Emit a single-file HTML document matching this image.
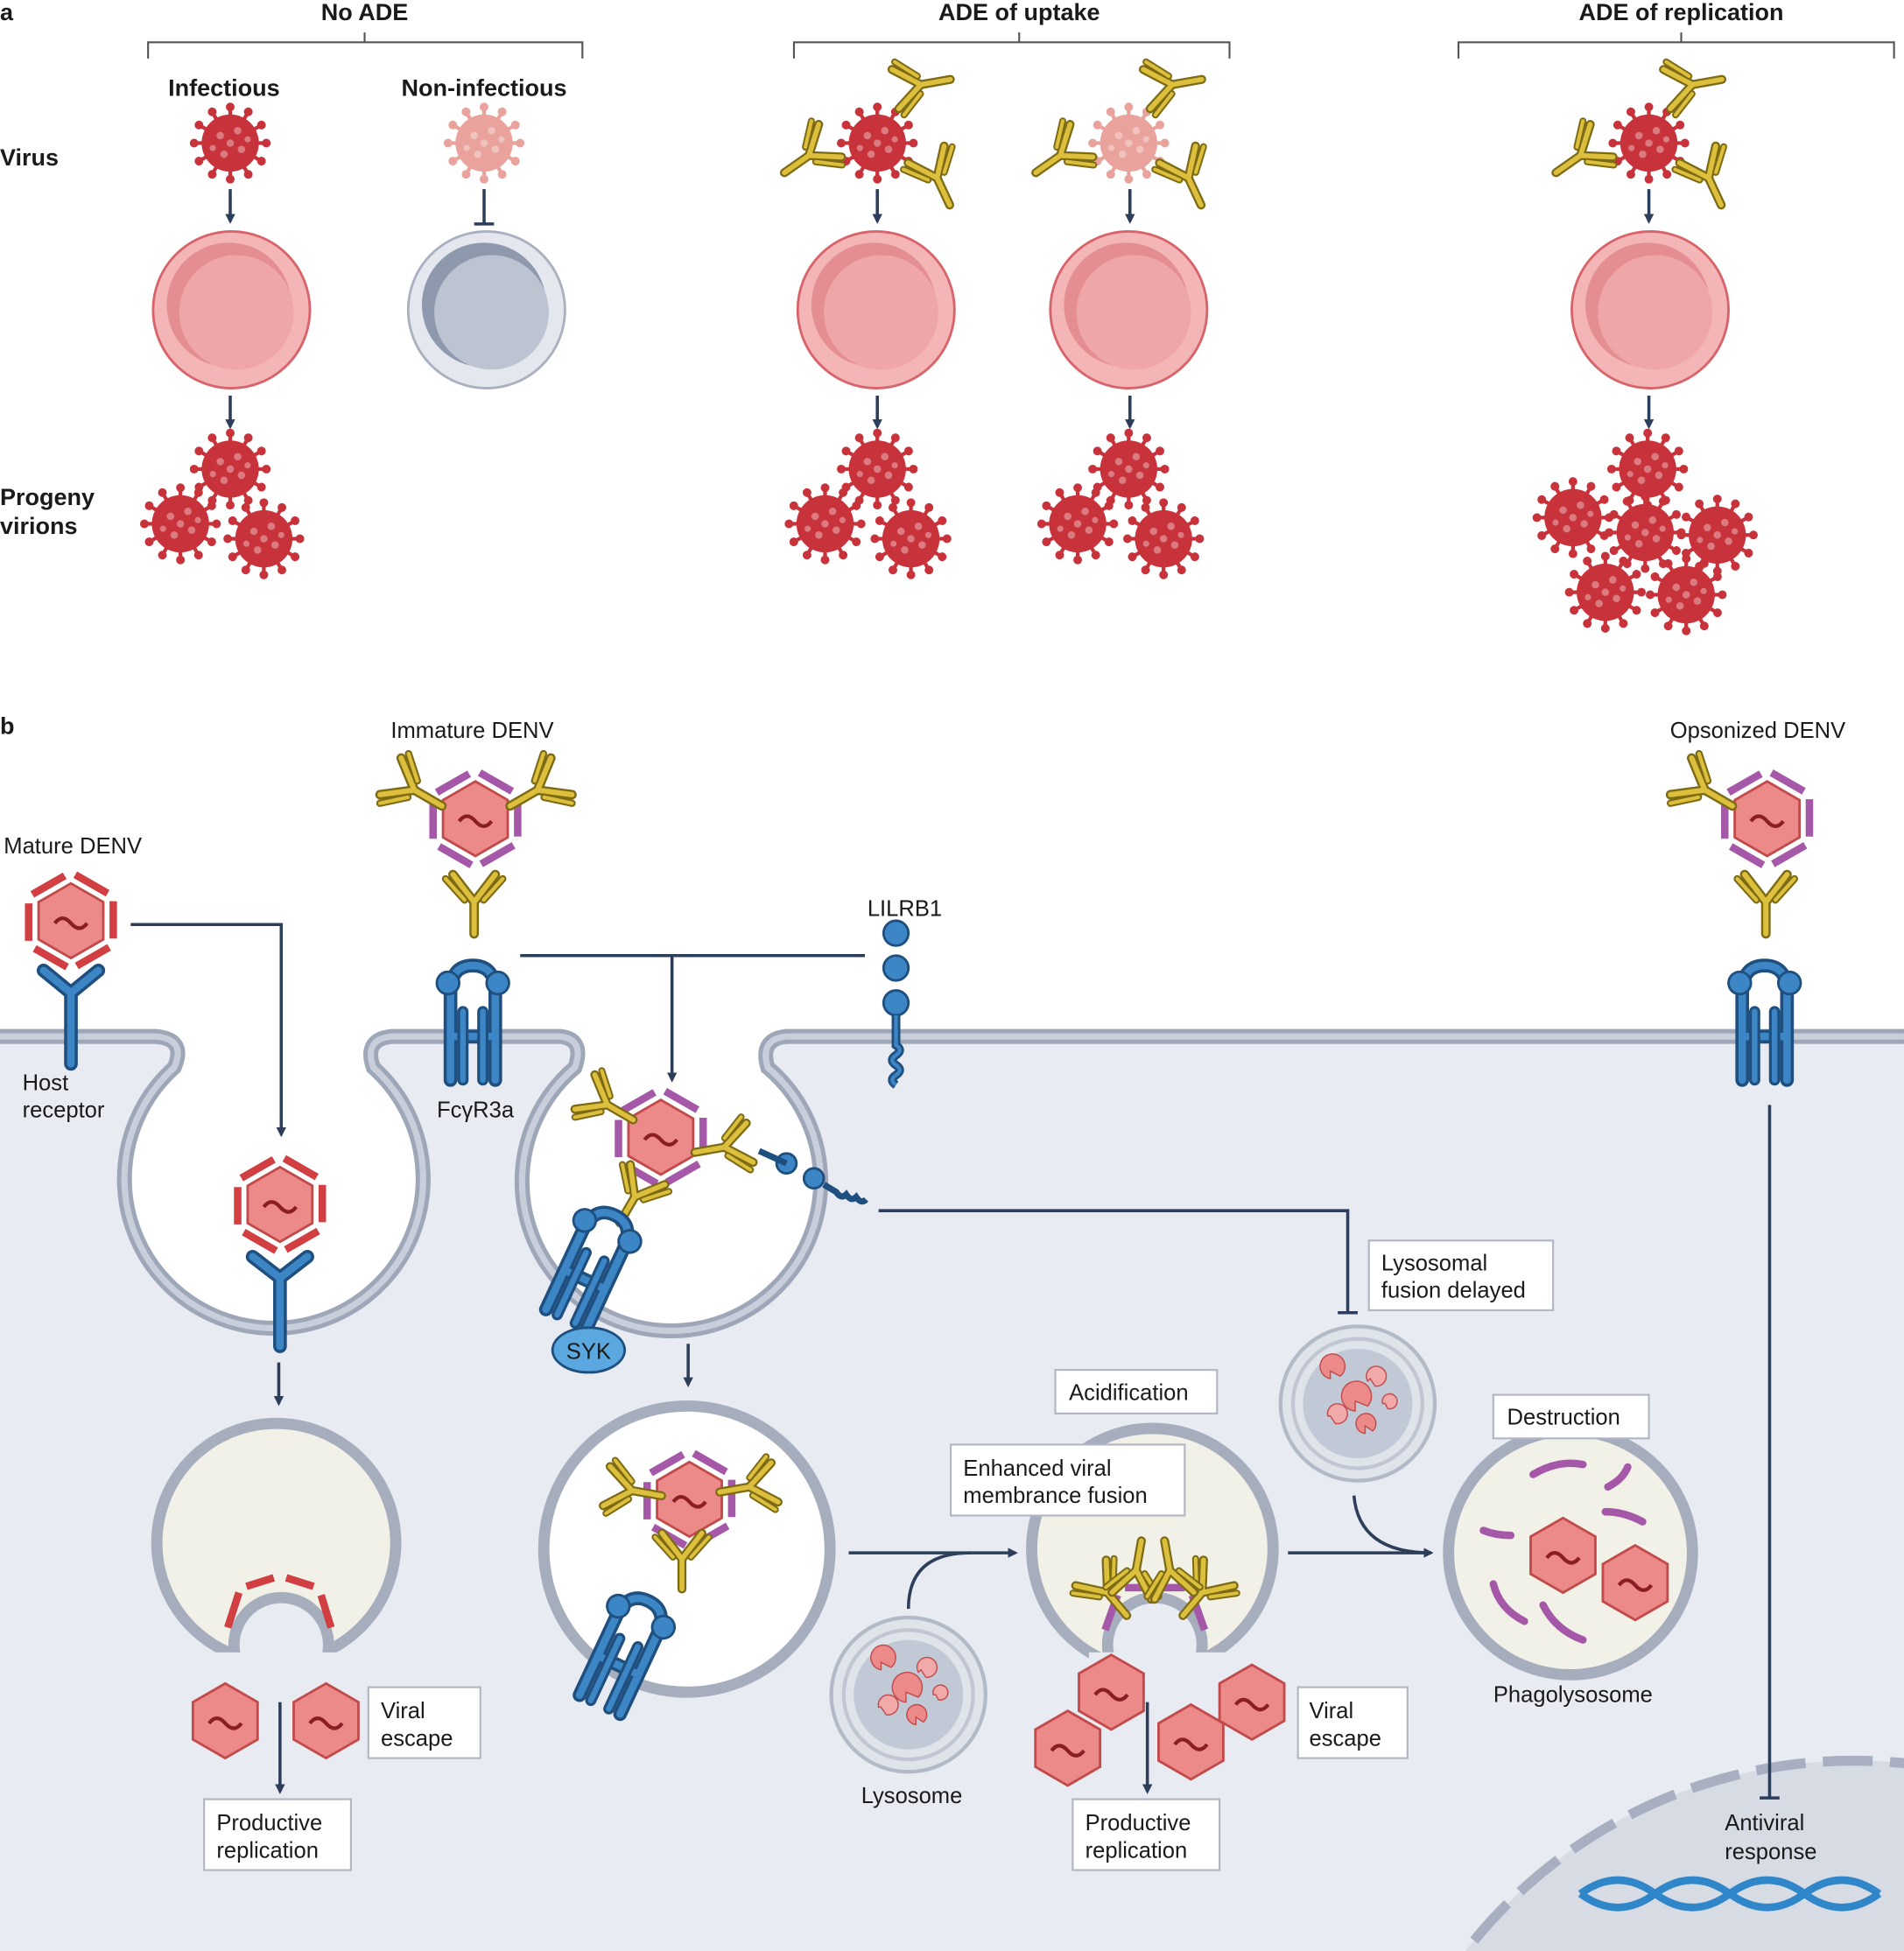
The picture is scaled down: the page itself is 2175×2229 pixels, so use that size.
<!DOCTYPE html>
<html><head><meta charset="utf-8"><style>
html,body{margin:0;padding:0;background:#fff;width:2175px;height:2229px;overflow:hidden}
svg{display:block}
text{font-family:"Liberation Sans",sans-serif;fill:#1a1a1a}
.h{font-weight:bold;font-size:19px}
.l{font-size:18px}
</style></head><body>
<svg width="2175" height="2229" viewBox="0 0 1530 1568" xmlns="http://www.w3.org/2000/svg" xmlns:xlink="http://www.w3.org/1999/xlink">
<defs>
<marker id="ar" markerWidth="8" markerHeight="8" refX="6" refY="4" orient="auto" markerUnits="userSpaceOnUse"><path d="M0,0 L8,4 L0,8 Z" fill="#2d3e5a"/></marker>
<g id="sp"><line x1="0" y1="-20" x2="0" y2="-28" stroke="currentColor" stroke-width="3"/><circle cy="-29" r="3.5" fill="currentColor"/></g>
<g id="vir">
<use href="#sp"/><use href="#sp" transform="rotate(30)"/><use href="#sp" transform="rotate(60)"/><use href="#sp" transform="rotate(90)"/><use href="#sp" transform="rotate(120)"/><use href="#sp" transform="rotate(150)"/><use href="#sp" transform="rotate(180)"/><use href="#sp" transform="rotate(210)"/><use href="#sp" transform="rotate(240)"/><use href="#sp" transform="rotate(270)"/><use href="#sp" transform="rotate(300)"/><use href="#sp" transform="rotate(330)"/>
<circle r="23" fill="currentColor"/>
<circle cx="-8" cy="-6" r="3" fill="#fff" opacity=".35"/><circle cx="6" cy="-10" r="3" fill="#fff" opacity=".35"/><circle cx="9" cy="5" r="3" fill="#fff" opacity=".35"/><circle cx="-5" cy="9" r="3" fill="#fff" opacity=".35"/><circle cx="0" cy="0" r="3" fill="#fff" opacity=".35"/><circle cx="-14" cy="4" r="2.5" fill="#fff" opacity=".35"/><circle cx="14" cy="-3" r="2.5" fill="#fff" opacity=".35"/>
</g>
<g id="ab">
<path d="M0,30 V0 L-20,-26 M0,0 L20,-26" fill="none" stroke="#7d6a14" stroke-width="9" stroke-linecap="round"/>
<path d="M0,30 V0 L-20,-26 M0,0 L20,-26" fill="none" stroke="#dcbf3c" stroke-width="5" stroke-linecap="round"/>
<path d="M-9,-2 L-27,-22 M9,-2 L27,-22" fill="none" stroke="#7d6a14" stroke-width="7" stroke-linecap="round"/>
<path d="M-9,-2 L-27,-22 M9,-2 L27,-22" fill="none" stroke="#dcbf3c" stroke-width="3.5" stroke-linecap="round"/>
</g>
<g id="cell"><circle r="63" fill="#f3b5b5" stroke="#d9636a" stroke-width="2"/><circle cx="-2" cy="-4" r="50" fill="#e48e93"/><circle cx="4" cy="2" r="46" fill="#eea6a9"/></g>
<g id="hexc"><polygon points="0,-30 26,-15 26,15 0,30 -26,15 -26,-15" fill="#ec8a8a" stroke="#c24a4a" stroke-width="2"/><path d="M-13,2 q6,-8 13,0 t13,0" fill="none" stroke="#8b1e25" stroke-width="3"/></g>
<g id="hexR"><polygon points="0,-39 34,-19.5 34,19.5 0,39 -34,19.5 -34,-19.5" fill="none" stroke="#d23f43" stroke-width="6" stroke-dasharray="30,9" stroke-dashoffset="-4"/><use href="#hexc"/></g>
<g id="hexP"><polygon points="0,-39 34,-19.5 34,19.5 0,39 -34,19.5 -34,-19.5" fill="none" stroke="#a558a8" stroke-width="6" stroke-dasharray="30,9" stroke-dashoffset="-4"/><use href="#hexc"/></g>
<g id="fcr">
<path d="M-18,0 V-70 M18,0 V-70 M-18,-35 H18" stroke="#1f4f7f" stroke-width="11" fill="none" stroke-linecap="round"/>
<path d="M-18,0 V-70 M18,0 V-70 M-18,-35 H18" stroke="#3c86c6" stroke-width="6" fill="none" stroke-linecap="round"/>
<path d="M-8,0 V-55 M8,0 V-55" stroke="#1f4f7f" stroke-width="9" fill="none" stroke-linecap="round"/>
<path d="M-8,0 V-55 M8,0 V-55" stroke="#3c86c6" stroke-width="4.5" fill="none" stroke-linecap="round"/>
<path d="M-18,-70 q0,-22 18,-22 q18,0 18,22" fill="none" stroke="#1f4f7f" stroke-width="11"/>
<path d="M-18,-70 q0,-22 18,-22 q18,0 18,22" fill="none" stroke="#3c86c6" stroke-width="6"/>
<circle cx="-20" cy="-78" r="9" fill="#3c86c6" stroke="#1f4f7f" stroke-width="2"/><circle cx="20" cy="-78" r="9" fill="#3c86c6" stroke="#1f4f7f" stroke-width="2"/>
</g>
<g id="lyso"><circle r="62" fill="#dfe3ea" stroke="#b3bac7" stroke-width="3"/><circle r="52" fill="none" stroke="#c1c7d2" stroke-width="3"/><circle r="44" fill="#c2c9d6"/>
<path d="M-22,-20 a10,10 0 1 1 8,-2 l-8,-4z" fill="#ec8a8a" stroke="#c24a4a"/>
<path d="M8,-18 a8,8 0 1 1 6,4 l-4,-6z" fill="#f1a9a9" stroke="#c24a4a"/>
<path d="M-2,6 a12,12 0 1 1 10,-4 l-10,-4z" fill="#ec8a8a" stroke="#c24a4a"/>
<path d="M-24,10 a8,8 0 1 1 6,6 l-4,-6z" fill="#f1a9a9" stroke="#c24a4a"/>
<path d="M6,24 a8,8 0 1 1 6,-2 l-6,-4z" fill="#ec8a8a" stroke="#c24a4a"/>
<path d="M20,0 a6,6 0 1 1 4,4 l-2,-4z" fill="#f1a9a9" stroke="#c24a4a"/>
</g>
</defs>

<!-- PART A -->
<text x="0" y="16" class="h" font-size="22">a</text>
<text x="293" y="16" class="h" text-anchor="middle">No ADE</text>
<text x="819" y="16" class="h" text-anchor="middle">ADE of uptake</text>
<text x="1351" y="16" class="h" text-anchor="middle">ADE of replication</text>
<g stroke="#555" stroke-width="1.5" fill="none">
<path d="M119,47 V34 H468 V47 M293,34 V26"/>
<path d="M638,47 V34 H988 V47 M819,34 V26"/>
<path d="M1172,47 V34 H1522 V47 M1351,34 V26"/>
</g>
<text x="180" y="77" class="h" text-anchor="middle">Infectious</text>
<text x="389" y="77" class="h" text-anchor="middle">Non-infectious</text>
<text x="0" y="133" class="h">Virus</text>
<text x="0" y="406" class="h">Progeny</text>
<text x="0" y="429" class="h">virions</text>

<g stroke="#2d3e5a" stroke-width="2.5" fill="none">
<line x1="185" y1="152" x2="185" y2="178" marker-end="url(#ar)"/>
<line x1="185" y1="318" x2="185" y2="343" marker-end="url(#ar)"/>
<line x1="389" y1="152" x2="389" y2="180"/><line x1="381" y1="180" x2="397" y2="180"/>
<line x1="705" y1="152" x2="705" y2="178" marker-end="url(#ar)"/>
<line x1="705" y1="318" x2="705" y2="343" marker-end="url(#ar)"/>
<line x1="908" y1="152" x2="908" y2="178" marker-end="url(#ar)"/>
<line x1="908" y1="318" x2="908" y2="343" marker-end="url(#ar)"/>
<line x1="1325" y1="152" x2="1325" y2="178" marker-end="url(#ar)"/>
<line x1="1325" y1="318" x2="1325" y2="343" marker-end="url(#ar)"/>
</g>

<use href="#vir" x="185" y="115" style="color:#c8333b"/>
<use href="#vir" x="389" y="115" style="color:#e9a39c"/>
<use href="#cell" x="186" y="249"/>
<g transform="translate(391,249)"><circle r="63" fill="#e4e7ee" stroke="#a9b0c0" stroke-width="2"/><circle cx="-2" cy="-4" r="50" fill="#8f99ad"/><circle cx="4" cy="2" r="46" fill="#bcc4d2"/></g>
<use href="#vir" x="185" y="377" style="color:#c8333b"/>
<use href="#vir" x="145" y="421" style="color:#c8333b"/>
<use href="#vir" x="212" y="433" style="color:#c8333b"/>

<!-- uptake 1 -->
<use href="#vir" x="705" y="115" style="color:#c8333b"/>
<use href="#ab" transform="translate(740,68) rotate(-100) scale(0.8)"/>
<use href="#ab" transform="translate(650,125) rotate(55) scale(0.8)"/>
<use href="#ab" transform="translate(753,143) rotate(-25) scale(0.8)"/>
<use href="#cell" x="704" y="249"/>
<use href="#vir" x="705" y="377" style="color:#c8333b"/>
<use href="#vir" x="663" y="421" style="color:#c8333b"/>
<use href="#vir" x="732" y="433" style="color:#c8333b"/>
<!-- uptake 2 -->
<use href="#vir" x="907" y="115" style="color:#e9a39c"/>
<use href="#ab" transform="translate(942,68) rotate(-100) scale(0.8)"/>
<use href="#ab" transform="translate(852,125) rotate(55) scale(0.8)"/>
<use href="#ab" transform="translate(955,143) rotate(-25) scale(0.8)"/>
<use href="#cell" x="907" y="249"/>
<use href="#vir" x="907" y="377" style="color:#c8333b"/>
<use href="#vir" x="866" y="421" style="color:#c8333b"/>
<use href="#vir" x="935" y="433" style="color:#c8333b"/>
<!-- replication -->
<use href="#vir" x="1325" y="115" style="color:#c8333b"/>
<use href="#ab" transform="translate(1360,68) rotate(-100) scale(0.8)"/>
<use href="#ab" transform="translate(1270,125) rotate(55) scale(0.8)"/>
<use href="#ab" transform="translate(1373,143) rotate(-25) scale(0.8)"/>
<use href="#cell" x="1326" y="249"/>
<use href="#vir" x="1324" y="377" style="color:#c8333b"/>
<use href="#vir" x="1264" y="416" style="color:#c8333b"/>
<use href="#vir" x="1322" y="428" style="color:#c8333b"/>
<use href="#vir" x="1380" y="430" style="color:#c8333b"/>
<use href="#vir" x="1290" y="476" style="color:#c8333b"/>
<use href="#vir" x="1355" y="478" style="color:#c8333b"/>

<!-- PART B -->
<text x="0" y="590" class="h" font-size="24">b</text>
<path d="M0,833 L125,833 Q150,835 140,858 A120,120 0 1 0 300,858 Q292,835 315,833 L450,833 Q470,835 462,858 A120,120 0 1 0 617,858 Q610,835 632,833 L1530,833 L1530,1568 L0,1568 Z" fill="#e8ebf1"/>
<path d="M0,833 L125,833 Q150,835 140,858 A120,120 0 1 0 300,858 Q292,835 315,833 L450,833 Q470,835 462,858 A120,120 0 1 0 617,858 Q610,835 632,833 L1530,833" fill="none" stroke="#9ea7b8" stroke-width="12"/>
<path d="M0,833 L125,833 Q150,835 140,858 A120,120 0 1 0 300,858 Q292,835 315,833 L450,833 Q470,835 462,858 A120,120 0 1 0 617,858 Q610,835 632,833 L1530,833" fill="none" stroke="#c9cfda" stroke-width="5"/>

<!-- nucleus -->
<circle cx="1490" cy="1810" r="395" fill="#d6dbe4" stroke="#a7afc0" stroke-width="8" stroke-dasharray="40,14"/>
<path d="M1270,1522 q30,22 60,0 t60,0 t60,0 t60,0" fill="none" stroke="#2f86c8" stroke-width="6"/>
<path d="M1270,1522 q30,-22 60,0 t60,0 t60,0 t60,0" fill="none" stroke="#2f86c8" stroke-width="6"/>

<!-- lines b -->
<g stroke="#2d3e5a" stroke-width="2.5" fill="none">
<path d="M105,743 H226 V912" marker-end="url(#ar)"/>
<path d="M418,768 H695 M540,768 V868" marker-end="url(#ar)"/>
<line x1="224" y1="1095" x2="224" y2="1128" marker-end="url(#ar)"/>
<line x1="553" y1="1080" x2="553" y2="1113" marker-end="url(#ar)"/>
<line x1="225" y1="1315" x2="225" y2="1440" marker-end="url(#ar)"/>
<path d="M706,973 H1083 V1055 M1075,1055 H1091"/>
<line x1="682" y1="1248" x2="816" y2="1248" marker-end="url(#ar)"/>
<path d="M730,1293 Q730,1248 780,1248"/>
<line x1="1035" y1="1248" x2="1150" y2="1248" marker-end="url(#ar)"/>
<path d="M1088,1202 Q1092,1248 1150,1248"/>
<line x1="922" y1="1315" x2="922" y2="1440" marker-end="url(#ar)"/>
<path d="M1422,888 V1445 M1414,1445 H1430"/>
</g>

<!-- receptors/viruses top -->
<use href="#hexR" x="57" y="740"/>
<path d="M57,855 V798 M57,798 L35,780 M57,798 L79,780" stroke="#1f4f7f" stroke-width="11" fill="none" stroke-linecap="round"/>
<path d="M57,855 V798 M57,798 L35,780 M57,798 L79,780" stroke="#3c86c6" stroke-width="6" fill="none" stroke-linecap="round"/>
<text x="18" y="876" class="l">Host</text><text x="18" y="898" class="l">receptor</text>
<text x="3" y="686" class="l">Mature DENV</text>

<text x="314" y="593" class="l">Immature DENV</text>
<use href="#hexP" x="382" y="658"/>
<use href="#ab" transform="translate(333,635) rotate(-60) scale(0.85)"/>
<use href="#ab" transform="translate(432,635) rotate(60) scale(0.85)"/>
<use href="#ab" transform="translate(381,725) scale(0.85)"/>
<use href="#fcr" x="380" y="868"/>
<text x="351" y="898" class="l">FcγR3a</text>

<text x="697" y="736" class="l">LILRB1</text>
<g fill="#3c86c6" stroke="#1f4f7f" stroke-width="2"><circle cx="720" cy="750" r="10"/><circle cx="720" cy="778" r="10"/><circle cx="720" cy="806" r="10"/></g>
<path d="M720,816 V840 q6,4 0,8 q-6,4 0,8 q6,4 0,8 q-6,4 0,8" stroke="#1f4f7f" stroke-width="7" fill="none"/>
<path d="M720,816 V840 q6,4 0,8 q-6,4 0,8 q6,4 0,8 q-6,4 0,8" stroke="#3c86c6" stroke-width="3" fill="none"/>

<text x="1342" y="593" class="l">Opsonized DENV</text>
<use href="#hexP" x="1420" y="658"/>
<use href="#ab" transform="translate(1370,635) rotate(-60) scale(0.85)"/>
<use href="#ab" transform="translate(1419,725) scale(0.85)"/>
<use href="#fcr" x="1418" y="868"/>

<!-- pocket 1 contents -->
<use href="#hexR" x="225" y="968"/>
<path d="M225,1082 V1027 M225,1027 L203,1010 M225,1027 L247,1010" stroke="#1f4f7f" stroke-width="11" fill="none" stroke-linecap="round"/>
<path d="M225,1082 V1027 M225,1027 L203,1010 M225,1027 L247,1010" stroke="#3c86c6" stroke-width="6" fill="none" stroke-linecap="round"/>

<!-- pocket 2 contents -->
<use href="#hexP" x="531" y="914"/>
<use href="#ab" transform="translate(488,888) rotate(-60) scale(0.8)"/>
<use href="#ab" transform="translate(582,922) rotate(80) scale(0.8)"/>
<use href="#ab" transform="translate(510,962) rotate(30) scale(0.8)"/>
<g fill="#3c86c6" stroke="#1f4f7f" stroke-width="2"><circle cx="632" cy="935" r="8"/><circle cx="654" cy="947" r="8"/></g>
<path d="M610,925 L632,935 M662,952 l10,6 q4,6 8,2 q4,6 8,2 q4,6 8,2" stroke="#1f4f7f" stroke-width="5" fill="none"/>
<use href="#fcr" transform="translate(455,1060) rotate(25)"/>
<ellipse cx="473" cy="1085" rx="29" ry="18" fill="#5aa8df" stroke="#1f4f7f" stroke-width="2"/>
<text x="473" y="1092" class="l" text-anchor="middle">SYK</text>

<!-- endosome 1 -->
<circle cx="222" cy="1240" r="96" fill="#f2f1e8" stroke="#a6aebe" stroke-width="9"/>
<circle cx="226" cy="1322" r="38" fill="#e8ebf1" stroke="#a6aebe" stroke-width="9"/>
<rect x="170" y="1328" width="110" height="40" fill="#e8ebf1"/>
<path d="M183,1308 L192,1280 M198,1275 L220,1268 M230,1268 L252,1275 M258,1282 L266,1308" stroke="#d23f43" stroke-width="6" fill="none"/>
<use href="#hexc" x="181" y="1383"/><use href="#hexc" x="262" y="1383"/>

<!-- endosome 2 -->
<circle cx="552" cy="1245" r="115" fill="#fff" stroke="#a6aebe" stroke-width="9"/>
<use href="#hexP" x="554" y="1205"/>
<use href="#ab" transform="translate(508,1198) rotate(-80) scale(0.8)"/>
<use href="#ab" transform="translate(602,1195) rotate(80) scale(0.8)"/>
<use href="#ab" transform="translate(548,1253) scale(0.8)"/>
<use href="#fcr" transform="translate(482,1370) rotate(25)"/>

<!-- lysosomes -->
<use href="#lyso" x="730" y="1362"/>
<text x="692" y="1449" class="l">Lysosome</text>
<use href="#lyso" x="1091" y="1128"/>

<!-- acidification vesicle -->
<circle cx="926" cy="1245" r="97" fill="#f2f1e8" stroke="#a6aebe" stroke-width="9"/>
<circle cx="928" cy="1322" r="38" fill="#e8ebf1" stroke="#a6aebe" stroke-width="9"/>
<rect x="875" y="1328" width="110" height="40" fill="#e8ebf1"/>
<path d="M888,1310 L898,1282 M904,1276 L952,1276 M958,1282 L968,1310" stroke="#a558a8" stroke-width="6" fill="none"/>
<use href="#ab" transform="translate(890,1280) rotate(-40) scale(0.8)"/>
<use href="#ab" transform="translate(966,1280) rotate(40) scale(0.8)"/>
<use href="#ab" transform="translate(913,1262) rotate(-170) scale(0.8)"/>
<use href="#ab" transform="translate(940,1262) rotate(170) scale(0.8)"/>
<use href="#hexc" x="893" y="1360"/><use href="#hexc" x="858" y="1405"/><use href="#hexc" x="957" y="1400"/><use href="#hexc" x="1006" y="1368"/>

<!-- phagolysosome -->
<circle cx="1262" cy="1248" r="98" fill="#f2f1e8" stroke="#a6aebe" stroke-width="9"/>
<g stroke="#a558a8" stroke-width="6" fill="none" stroke-linecap="round">
<path d="M1232,1185 q20,-12 40,-8"/><path d="M1292,1195 q12,-6 16,-16"/><path d="M1192,1230 q10,4 22,4"/><path d="M1290,1215 q15,0 30,8"/><path d="M1200,1273 q5,20 25,30"/><path d="M1240,1290 q10,20 32,28"/>
</g>
<use href="#hexc" x="1256" y="1250"/><use href="#hexc" x="1314" y="1272"/>
<text x="1200" y="1368" class="l">Phagolysosome</text>
<text x="1386" y="1471" class="l">Antiviral</text><text x="1386" y="1494" class="l">response</text>

<!-- boxes -->
<g fill="#fff" stroke="#b0b6c2" stroke-width="1.5">
<rect x="1100" y="997" width="148" height="56"/>
<rect x="848" y="1101" width="130" height="35"/>
<rect x="764" y="1161" width="188" height="57"/>
<rect x="1200" y="1121" width="125" height="35"/>
<rect x="296" y="1356" width="90" height="57"/>
<rect x="1043" y="1356" width="88" height="57"/>
<rect x="164" y="1446" width="118" height="57"/>
<rect x="862" y="1446" width="118" height="57"/>
</g>
<text x="1110" y="1021" class="l">Lysosomal</text><text x="1110" y="1043" class="l">fusion delayed</text>
<text x="859" y="1125" class="l">Acidification</text>
<text x="774" y="1186" class="l">Enhanced viral</text><text x="774" y="1208" class="l">membrance fusion</text>
<text x="1211" y="1145" class="l">Destruction</text>
<text x="306" y="1381" class="l">Viral</text><text x="306" y="1403" class="l">escape</text>
<text x="1052" y="1381" class="l">Viral</text><text x="1052" y="1403" class="l">escape</text>
<text x="174" y="1471" class="l">Productive</text><text x="174" y="1493" class="l">replication</text>
<text x="872" y="1471" class="l">Productive</text><text x="872" y="1493" class="l">replication</text>
</svg>
</body></html>
